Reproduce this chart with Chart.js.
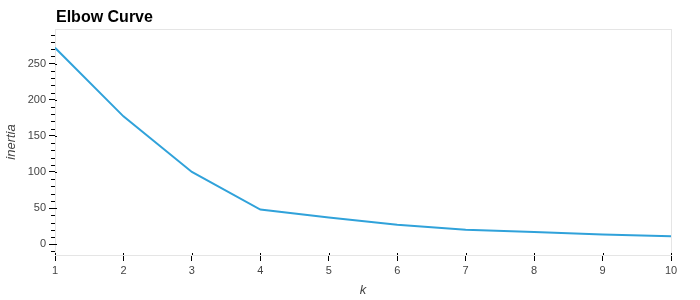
<!DOCTYPE html>
<html>
<head>
<meta charset="utf-8">
<script src="https://cdn.jsdelivr.net/npm/chart.js@4.4.1/dist/chart.umd.min.js"></script>
<style>
  html, body { margin: 0; padding: 0; background: #fff; }
  #wrap { width: 700px; height: 300px; position: relative; }
</style>
</head>
<body>
<div id="wrap"><canvas id="elbow"></canvas></div>
<script>
const TITLE = "Elbow Curve";
const K_VALUES = [1, 2, 3, 4, 5, 6, 7, 8, 9, 10];
const INERTIA = [272, 177, 100, 48, 37, 27, 20, 17, 13.5, 11];
const Y_TICKS = [0, 50, 100, 150, 200, 250];
const X_LABEL = "k";
const Y_LABEL = "inertia";

const FONT = "'Liberation Sans', Arial, Helvetica, sans-serif";
const TICK_COLOR = "#444444";

// bokeh-ish frame: light outline, minor ticks, title aligned on the plot
const bokehFrame = {
  id: "bokehFrame",
  beforeDatasetsDraw(chart) {
    const { ctx, chartArea: a } = chart;
    ctx.save();
    ctx.strokeStyle = "#e5e5e5";
    ctx.lineWidth = 1;
    ctx.strokeRect(a.left + 0.5, a.top + 0.5, a.right - a.left, a.bottom - a.top);
    ctx.restore();
  },
  afterDraw(chart) {
    const { ctx, chartArea: a, scales } = chart;
    const y = scales.y, x = scales.x;
    ctx.save();
    ctx.strokeStyle = "#000";
    ctx.lineWidth = 1;
    ctx.beginPath();
    // minor ticks on y every 10
    for (let v = -10; v <= 290; v += 10) {
      if (v % 50 === 0) continue;
      const py = Math.round(y.getPixelForValue(v)) + 0.5;
      ctx.moveTo(a.left - 4, py);
      ctx.lineTo(a.left, py);
    }
    // major ticks poke a little inside
    Y_TICKS.forEach(v => {
      const py = Math.round(y.getPixelForValue(v)) + 0.5;
      ctx.moveTo(a.left, py);
      ctx.lineTo(a.left + 2, py);
    });
    K_VALUES.forEach(v => {
      const px = Math.round(x.getPixelForValue(v)) + 0.5;
      ctx.moveTo(px, a.bottom);
      ctx.lineTo(px, a.bottom - 2);
    });
    ctx.stroke();

    ctx.fillStyle = "#000";
    ctx.font = "bold 16px " + FONT;
    ctx.textAlign = "left";
    ctx.textBaseline = "alphabetic";
    ctx.fillText(TITLE, a.left + 1, 22);
    ctx.restore();
  }
};

new Chart(document.getElementById("elbow"), {
  type: "line",
  data: {
    datasets: [{
      data: K_VALUES.map((k, i) => ({ x: k, y: INERTIA[i] })),
      borderColor: "#30a2da",
      borderWidth: 2,
      pointRadius: 0,
      tension: 0,
      fill: false
    }]
  },
  options: {
    responsive: true,
    maintainAspectRatio: false,
    animation: false,
    layout: { padding: { top: 29, right: 29, left: 0, bottom: 0 } },
    plugins: {
      legend: { display: false },
      tooltip: { enabled: false },
      title: { display: false }
    },
    scales: {
      x: {
        type: "linear",
        min: 1,
        max: 10,
        afterBuildTicks: s => { s.ticks = K_VALUES.map(v => ({ value: v })); },
        afterFit: s => { s.height = 45; },
        grid: { display: true, drawOnChartArea: false, drawTicks: true, tickLength: 6, tickColor: "#000" },
        border: { display: true, color: "#000", width: 1 },
        ticks: { color: TICK_COLOR, font: { family: FONT, size: 11 }, padding: 3, maxRotation: 0 },
        title: { display: true, text: X_LABEL, color: TICK_COLOR, font: { family: FONT, size: 13, style: "italic" }, padding: { top: 0, bottom: 2 } }
      },
      y: {
        type: "linear",
        min: -15,
        max: 298,
        afterBuildTicks: s => { s.ticks = Y_TICKS.map(v => ({ value: v })); },
        afterFit: s => { s.width = 55; },
        grid: { display: true, drawOnChartArea: false, drawTicks: true, tickLength: 6, tickColor: "#000" },
        border: { display: true, color: "#000", width: 1 },
        ticks: { color: TICK_COLOR, font: { family: FONT, size: 11 }, padding: 3 },
        title: { display: true, text: Y_LABEL, color: TICK_COLOR, font: { family: FONT, size: 13, style: "italic" }, padding: { top: 4, bottom: 0 } }
      }
    }
  },
  plugins: [bokehFrame]
});
</script>
</body>
</html>
